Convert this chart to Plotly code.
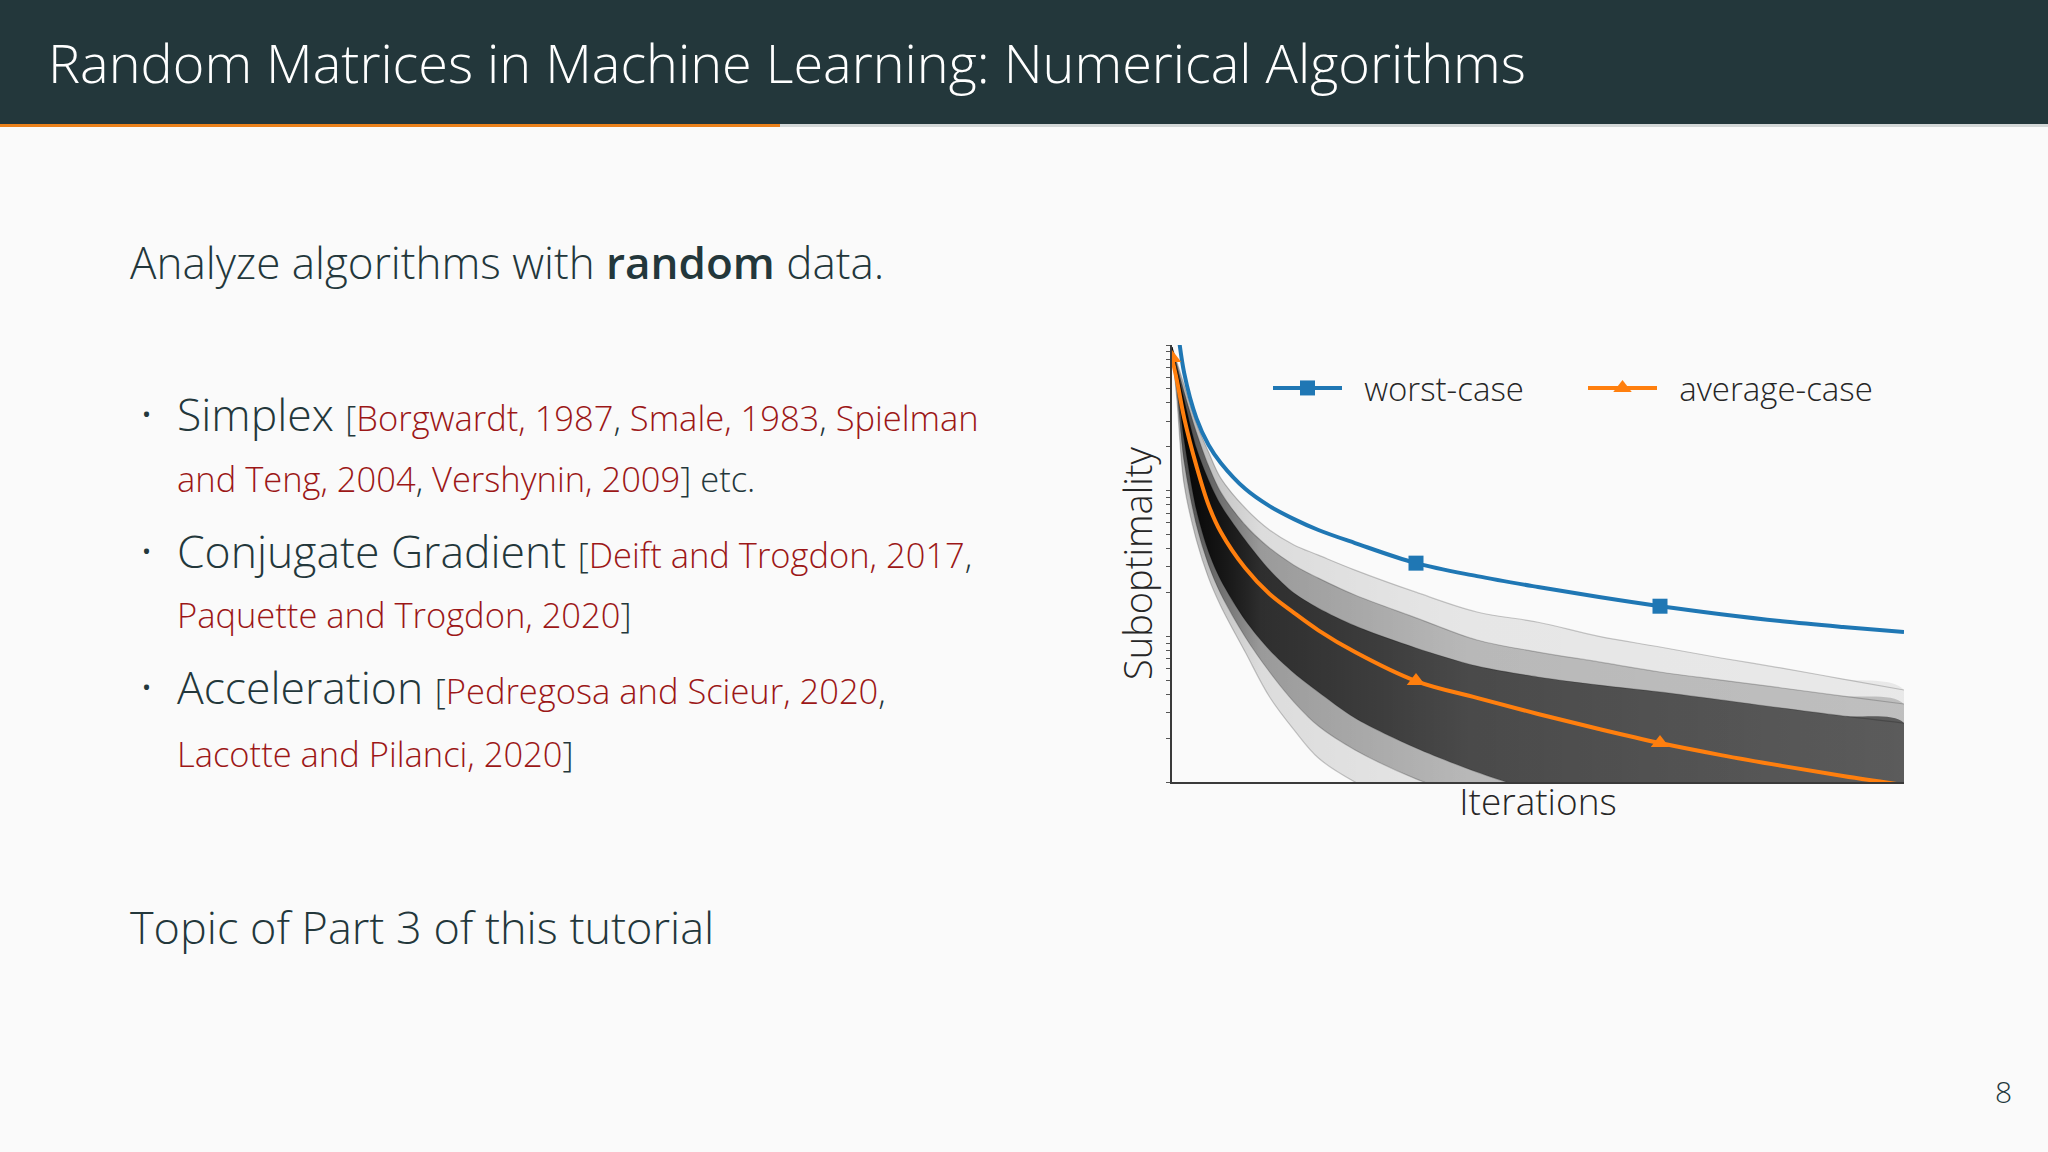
import plotly.graph_objects as go

iterations = [0, 2, 5, 10, 15, 20, 30, 40, 50, 60, 75, 100, 125, 150, 175, 200, 225, 250, 275, 300]

worst_case = [3.27, 1.44, 0.641, 0.315, 0.206, 0.155, 0.103, 0.0783, 0.0638, 0.0537,
              0.0437, 0.0318, 0.0259, 0.0218, 0.0186, 0.0161, 0.0142, 0.0127, 0.0116, 0.0107]
average_case = [0.813, 0.574, 0.315, 0.148, 0.0796, 0.0520, 0.0294, 0.0195, 0.0145, 0.0110,
                0.00780, 0.00493, 0.00378, 0.00293, 0.00231, 0.00185, 0.00153, 0.00129, 0.00110, 0.000953]
marker_iters = [0, 100, 200]

# envelopes of the cloud of random runs (slowest -> fastest)
runs_upper_faint = [0.968, 0.764, 0.531, 0.290, 0.184, 0.122, 0.0760, 0.0537, 0.0424, 0.0361,
                    0.0285, 0.0201, 0.0147, 0.0125, 0.0100, 0.00845, 0.00710, 0.00605, 0.00509, 0.00428]
runs_upper_mid = [0.968, 0.728, 0.475, 0.252, 0.148, 0.0977, 0.0581, 0.0404, 0.0308, 0.0251,
                  0.0192, 0.0134, 0.00944, 0.00780, 0.00667, 0.00569, 0.00501, 0.00442, 0.00389, 0.00343]
runs_upper_core = [0.968, 0.693, 0.419, 0.196, 0.118, 0.0796, 0.0458, 0.0285, 0.0198, 0.0156,
                   0.0118, 0.00832, 0.00625, 0.00526, 0.00463, 0.00415, 0.00366, 0.00322, 0.00284, 0.00254]
runs_lower_core = [0.968, 0.556, 0.222, 0.0736, 0.0379, 0.0243, 0.0129, 0.00805, 0.00560, 0.00415,
                   0.00275, 0.00171, 0.00117, 0.000853, 0.000664, 0.000548, 0.000469, 0.000413, 0.000370, 0.000331]
runs_lower_mid = [0.968, 0.490, 0.157, 0.0581, 0.0308, 0.0195, 0.00989, 0.00569, 0.00354, 0.00242,
                  0.00166, 0.00105, 0.000752, 0.000531, 0.000413, 0.000331, 0.000282, 0.000249, 0.000219, 0.000196]
runs_lower_faint = [0.968, 0.419, 0.109, 0.0458, 0.0251, 0.0161, 0.00780, 0.00383, 0.00228, 0.00146,
                    0.00100, 0.000643, 0.000433, 0.000315, 0.000249, 0.000196, 0.000167, 0.000143, 0.000128, 0.000113]

BLUE = '#1f77b4'
ORANGE = '#ff7f0e'
DARK = '#23373b'
RED = '#9c1717'
FONT = 'Open Sans'
W, H = 2048, 1152


def band(upper, lower, alphas):
    # runs pile up near the start, so the cloud is darkest on the left
    scale = [[0, f'rgba(0,0,0,{alphas[0]})'], [0.12, f'rgba(0,0,0,{alphas[1]})'],
             [0.4, f'rgba(0,0,0,{alphas[2]})'], [1, f'rgba(0,0,0,{alphas[3]})']]
    return go.Scatter(x=iterations + iterations[::-1], y=upper + lower[::-1], mode='lines',
                      fill='toself', fillgradient=dict(type='horizontal', colorscale=scale),
                      line=dict(width=0, shape='spline', smoothing=0.8),
                      hoverinfo='skip', showlegend=False)


fig = go.Figure()

# cloud of runs
fig.add_trace(band(runs_upper_faint, runs_lower_faint, [0.3, 0.12, 0.08, 0.07]))
fig.add_trace(band(runs_upper_mid, runs_lower_mid, [0.6, 0.3, 0.2, 0.18]))
fig.add_trace(band(runs_upper_core, runs_lower_core, [0.95, 0.7, 0.6, 0.52]))
for run in [runs_upper_faint, runs_upper_mid, runs_upper_core, runs_lower_core, runs_lower_mid, runs_lower_faint]:
    fig.add_trace(go.Scatter(x=iterations, y=run, mode='lines', hoverinfo='skip', showlegend=False,
                             line=dict(color='rgba(0,0,0,0.2)', width=1.2, shape='spline')))

# worst / average case
fig.add_trace(go.Scatter(x=iterations, y=worst_case, mode='lines', showlegend=False,
                         line=dict(color=BLUE, width=4, shape='spline')))
fig.add_trace(go.Scatter(x=marker_iters[1:], y=[worst_case[iterations.index(m)] for m in marker_iters[1:]],
                         mode='markers', showlegend=False,
                         marker=dict(symbol='square', size=15, color=BLUE)))
fig.add_trace(go.Scatter(x=iterations, y=average_case, mode='lines', showlegend=False,
                         line=dict(color=ORANGE, width=4, shape='spline')))
fig.add_trace(go.Scatter(x=marker_iters, y=[average_case[iterations.index(m)] for m in marker_iters],
                         mode='markers', showlegend=False,
                         marker=dict(symbol='triangle-up', size=16, color=ORANGE)))

# legend entries
fig.add_trace(go.Scatter(x=[None], y=[None], mode='lines+markers', name='\u00a0\u00a0worst-case',
                         line=dict(color=BLUE, width=4), marker=dict(symbol='square', size=15, color=BLUE)))
fig.add_trace(go.Scatter(x=[None], y=[None], mode='lines+markers', name='\u00a0\u00a0average-case',
                         line=dict(color=ORANGE, width=4), marker=dict(symbol='triangle-up', size=16, color=ORANGE)))

fig.update_xaxes(domain=[1172 / W, 1904 / W], range=[0, 300], showticklabels=False, ticks='',
                 showgrid=False, zeroline=False, showline=True, linecolor='#3a3a3a', linewidth=2,
                 title=dict(text='Iterations', font=dict(family=FONT, size=37, color='#262626', weight=300),
                            standoff=6))
fig.update_yaxes(domain=[1 - 782 / H, 1 - 345 / H], type='log', range=[-3, 0], dtick='D1',
                 showticklabels=False, ticks='outside', ticklen=4, tickwidth=1, tickcolor='#555555',
                 showgrid=False, zeroline=False, showline=True, linecolor='#3a3a3a', linewidth=2,
                 title=dict(text='Suboptimality', font=dict(family=FONT, size=38, color='#262626', weight=300),
                            standoff=2))

SMALL = 34.5
BIG = 44.5


def cite(s):
    return f'<span style="color:{RED}">{s}</span>'


def small(s):
    return f'<span style="font-size:{SMALL}px">{s}</span>'


slide_lines = [
    ('Simplex ' + small('[' + cite('Borgwardt, 1987') + ', ' + cite('Smale, 1983') + ', ' + cite('Spielman')), 430, BIG),
    (small(cite('and Teng, 2004') + ', ' + cite('Vershynin, 2009') + '] etc.'), 492, SMALL),
    ('Conjugate Gradient ' + small('[' + cite('Deift and Trogdon, 2017') + ','), 567, BIG),
    (small(cite('Paquette and Trogdon, 2020') + ']'), 628, SMALL),
    ('Acceleration ' + small('[' + cite('Pedregosa and Scieur, 2020') + ','), 703, BIG),
    (small(cite('Lacotte and Pilanci, 2020') + ']'), 767, SMALL),
]

annotations = [
    dict(text='Random Matrices in Machine Learning: Numerical Algorithms', x=46 / W, y=1 - 62.5 / H,
         xanchor='left', yanchor='middle', font=dict(family=FONT, size=54, color='white', weight=300)),
    dict(text='Analyze algorithms with <span style="font-weight:600">random</span> data.', x=128 / W, y=1 - 262 / H,
         xanchor='left', yanchor='middle', font=dict(family=FONT, size=44, color=DARK, weight=300)),
    dict(text='Topic of Part 3 of this tutorial', x=128 / W, y=1 - 926 / H,
         xanchor='left', yanchor='middle', font=dict(family=FONT, size=45, color=DARK, weight=300)),
    dict(text='8', x=2003 / W, y=1 - 1091 / H, xanchor='center', yanchor='middle',
         font=dict(family=FONT, size=30, color=DARK, weight=300)),
]
for text, base, size in slide_lines:
    annotations.append(dict(text=text, x=175 / W, y=1 - (base - 0.38 * size) / H, xanchor='left',
                            yanchor='middle', font=dict(family=FONT, size=BIG, color=DARK, weight=300)))
    if size == BIG:
        annotations.append(dict(text='•', x=146 / W, y=1 - (base - 17) / H, xanchor='center',
                                yanchor='middle', font=dict(family=FONT, size=24, color=DARK)))
for a in annotations:
    a.update(xref='paper', yref='paper', showarrow=False)

shapes = [
    dict(type='rect', xref='paper', yref='paper', x0=0, x1=1, y0=1 - 124 / H, y1=1,
         fillcolor=DARK, line_width=0, layer='below'),
    dict(type='rect', xref='paper', yref='paper', x0=0, x1=780 / W, y0=1 - 127 / H, y1=1 - 124 / H,
         fillcolor='#eb811b', line_width=0, layer='below'),
    dict(type='rect', xref='paper', yref='paper', x0=780 / W, x1=1, y0=1 - 127 / H, y1=1 - 124 / H,
         fillcolor='#d3d7d7', line_width=0, layer='below'),
]

fig.update_layout(
    width=W, height=H, margin=dict(l=0, r=0, t=0, b=0),
    paper_bgcolor='#fafafa', plot_bgcolor='rgba(0,0,0,0)',
    annotations=annotations, shapes=shapes,
    legend=dict(orientation='h', x=1268 / W, xanchor='left', y=1 - 388 / H, yanchor='middle',
                entrywidth=231, itemwidth=69, bgcolor='rgba(0,0,0,0)',
                font=dict(family=FONT, size=33, color='#262626', weight=300)),
)

fig.write_html("out.html", config={'displayModeBar': False},
               post_script="document.body.style.margin='0';document.body.style.overflow='hidden';")
